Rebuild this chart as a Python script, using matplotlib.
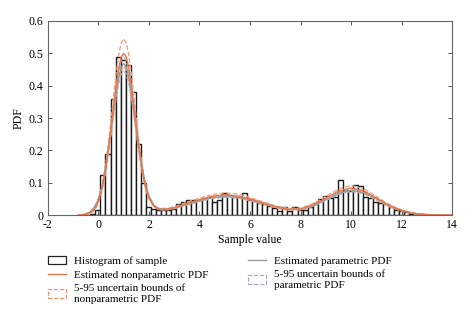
import matplotlib
matplotlib.use("Agg")
import matplotlib.pyplot as plt
from matplotlib.patches import Patch
from matplotlib.lines import Line2D

plt.rcParams['font.family'] = ['Liberation Serif', 'DejaVu Serif']

# histogram of sample (bin width 0.2, left edges)
bin_left = [round(-0.32 + 0.2 * i, 2) for i in range(65)]
hist_vals = [0.003, 0.015, 0.125, 0.19, 0.36, 0.49, 0.48, 0.465, 0.38, 0.22, 0.10, 0.026,
             0.02, 0.015, 0.015, 0.017, 0.02,
             0.033, 0.041, 0.048, 0.046, 0.048,
             0.052, 0.056, 0.041, 0.046, 0.067,
             0.062, 0.057, 0.055, 0.069, 0.048,
             0.043, 0.038, 0.033, 0.028, 0.022,
             0.012, 0.024, 0.013, 0.024, 0.015,
             0.015, 0.024, 0.036, 0.05, 0.059,
             0.052, 0.057, 0.11, 0.077, 0.075,
             0.093, 0.09, 0.057, 0.052, 0.041,
             0.036, 0.034, 0.024, 0.015, 0.012,
             0.01, 0.005, 0.003]

# x positions for the PDF curves
x_pdf = [-0.8, -0.6, -0.5, -0.4, -0.3, -0.2, -0.1, 0.0, 0.1, 0.2, 0.3, 0.4, 0.5, 0.6, 0.7,
         0.8, 0.9, 1.0, 1.1, 1.2, 1.3, 1.4, 1.5, 1.6, 1.7, 1.8, 1.9, 2.0, 2.2, 2.4,
         2.7, 3.0, 3.5, 4.0, 4.5, 5.0, 5.5, 6.0, 6.5, 7.0, 7.5, 8.0, 8.5, 9.0, 9.5,
         10.0, 10.5, 11.0, 11.5, 12.0, 12.5, 13.0, 13.5, 14.0]

np_pdf = [0.000, 0.001, 0.002, 0.004, 0.008, 0.014, 0.025, 0.043, 0.068, 0.103, 0.149, 0.206,
          0.270, 0.337, 0.400, 0.453, 0.488, 0.500, 0.489, 0.455, 0.402, 0.340, 0.274, 0.211,
          0.155, 0.110, 0.077, 0.053, 0.027, 0.018,
          0.018, 0.023, 0.036, 0.048, 0.058, 0.063, 0.059, 0.050, 0.038, 0.026, 0.018, 0.019,
          0.032, 0.053, 0.074, 0.084, 0.075, 0.053, 0.030, 0.014, 0.005, 0.0015, 0.0003, 0.0]
np_hi = [0.000, 0.001, 0.002, 0.005, 0.009, 0.016, 0.028, 0.048, 0.075, 0.113, 0.163, 0.225,
         0.295, 0.368, 0.437, 0.494, 0.532, 0.545, 0.533, 0.496, 0.438, 0.371, 0.299, 0.230,
         0.169, 0.120, 0.084, 0.058, 0.030, 0.021,
         0.021, 0.026, 0.040, 0.053, 0.063, 0.069, 0.065, 0.055, 0.042, 0.029, 0.021, 0.022,
         0.036, 0.058, 0.081, 0.092, 0.082, 0.058, 0.033, 0.016, 0.006, 0.002, 0.0004, 0.0]
np_lo = [0.000, 0.001, 0.002, 0.004, 0.007, 0.012, 0.022, 0.039, 0.062, 0.095, 0.137, 0.190,
         0.248, 0.310, 0.368, 0.417, 0.449, 0.460, 0.450, 0.419, 0.370, 0.313, 0.252, 0.194,
         0.143, 0.101, 0.071, 0.049, 0.025, 0.016,
         0.016, 0.020, 0.032, 0.043, 0.053, 0.057, 0.054, 0.045, 0.034, 0.023, 0.015, 0.016,
         0.028, 0.048, 0.067, 0.076, 0.068, 0.048, 0.027, 0.012, 0.004, 0.001, 0.0002, 0.0]

p_pdf = [0.000, 0.002, 0.004, 0.007, 0.012, 0.020, 0.032, 0.050, 0.076, 0.111, 0.155, 0.207,
         0.265, 0.324, 0.379, 0.426, 0.457, 0.468, 0.458, 0.428, 0.381, 0.327, 0.269, 0.212,
         0.160, 0.117, 0.083, 0.058, 0.029, 0.019,
         0.018, 0.022, 0.033, 0.045, 0.054, 0.058, 0.056, 0.048, 0.037, 0.026, 0.018, 0.018,
         0.029, 0.048, 0.067, 0.077, 0.070, 0.050, 0.029, 0.014, 0.005, 0.0015, 0.0003, 0.0]
p_hi = [0.000, 0.002, 0.004, 0.007, 0.013, 0.021, 0.034, 0.053, 0.080, 0.116, 0.162, 0.216,
        0.276, 0.338, 0.395, 0.444, 0.477, 0.488, 0.478, 0.446, 0.397, 0.341, 0.281, 0.221,
        0.167, 0.122, 0.087, 0.061, 0.031, 0.020,
        0.019, 0.023, 0.035, 0.047, 0.057, 0.061, 0.059, 0.051, 0.039, 0.028, 0.019, 0.019,
        0.031, 0.051, 0.071, 0.081, 0.074, 0.053, 0.031, 0.015, 0.006, 0.002, 0.0004, 0.0]
p_lo = [0.000, 0.002, 0.004, 0.007, 0.011, 0.019, 0.030, 0.047, 0.072, 0.106, 0.147, 0.197,
        0.252, 0.308, 0.360, 0.405, 0.435, 0.445, 0.436, 0.407, 0.362, 0.311, 0.256, 0.202,
        0.152, 0.111, 0.079, 0.055, 0.027, 0.017,
        0.016, 0.020, 0.031, 0.042, 0.051, 0.055, 0.053, 0.045, 0.035, 0.024, 0.016, 0.017,
        0.027, 0.045, 0.063, 0.073, 0.066, 0.047, 0.027, 0.013, 0.004, 0.0012, 0.0002, 0.0]

c_np = '#e8764a'
c_np_b = '#f0a07c'
c_p = '#9a9a9a'
c_p_b = '#aab8c8'

fig = plt.figure(figsize=(4.74, 3.23), dpi=100)
ax = fig.add_axes([0.101, 0.334, 0.853, 0.601])

ax.bar(bin_left, hist_vals, width=0.2, align='edge', facecolor='white',
       edgecolor='#1a1a1a', linewidth=1.0, zorder=1)
ax.plot(x_pdf, p_hi, color=c_p_b, lw=0.9, ls='--', zorder=2)
ax.plot(x_pdf, p_lo, color=c_p_b, lw=0.9, ls='--', zorder=2)
ax.plot(x_pdf, np_hi, color=c_np_b, lw=0.9, ls='--', zorder=2)
ax.plot(x_pdf, np_lo, color=c_np_b, lw=0.9, ls='--', zorder=2)
ax.plot(x_pdf, p_pdf, color=c_p, lw=1.0, zorder=3)
ax.plot(x_pdf, np_pdf, color=c_np, lw=1.0, zorder=3)

ax.set_xlim(-2, 14)
ax.set_ylim(0, 0.6)
ax.set_xticks(range(-2, 15, 2))
ax.set_xticklabels([str(v) for v in range(-2, 15, 2)])
ax.set_yticks([0, 0.1, 0.2, 0.3, 0.4, 0.5, 0.6])
ax.set_yticklabels(['0', '0.1', '0.2', '0.3', '0.4', '0.5', '0.6'])
ax.tick_params(direction='in', top=True, right=True, length=3, width=0.7,
               labelsize=8.5, color='#555555', pad=3)
for s in ax.spines.values():
    s.set_color('#666666')
    s.set_linewidth(0.8)
ax.set_xlabel('Sample value', fontsize=8.5, labelpad=2)
ax.set_ylabel('PDF', fontsize=8.5, labelpad=3)

handles = [
    Patch(facecolor='white', edgecolor='#222222', linewidth=0.9),
    Line2D([], [], color=c_np, lw=1.0),
    Patch(facecolor='none', edgecolor='#eb8c64', linewidth=0.8, linestyle='--'),
    Line2D([], [], color=c_p, lw=1.0),
    Patch(facecolor='none', edgecolor='#9aa8b8', linewidth=0.8, linestyle='--'),
]
labels = ['Histogram of sample', 'Estimated nonparametric PDF',
          '5-95 uncertain bounds of\nnonparametric PDF',
          'Estimated parametric PDF', '5-95 uncertain bounds of\nparametric PDF']
leg = fig.legend(handles, labels, loc='upper left', bbox_to_anchor=(0.09, 0.225),
                 ncol=2, frameon=False, fontsize=8, handlelength=1.6, handleheight=0.8,
                 handletextpad=0.7, columnspacing=3.6, labelspacing=0.35, borderpad=0)
for t in leg.get_texts():
    t.set_linespacing(1.35)

fig.savefig('out.png', dpi=100)
